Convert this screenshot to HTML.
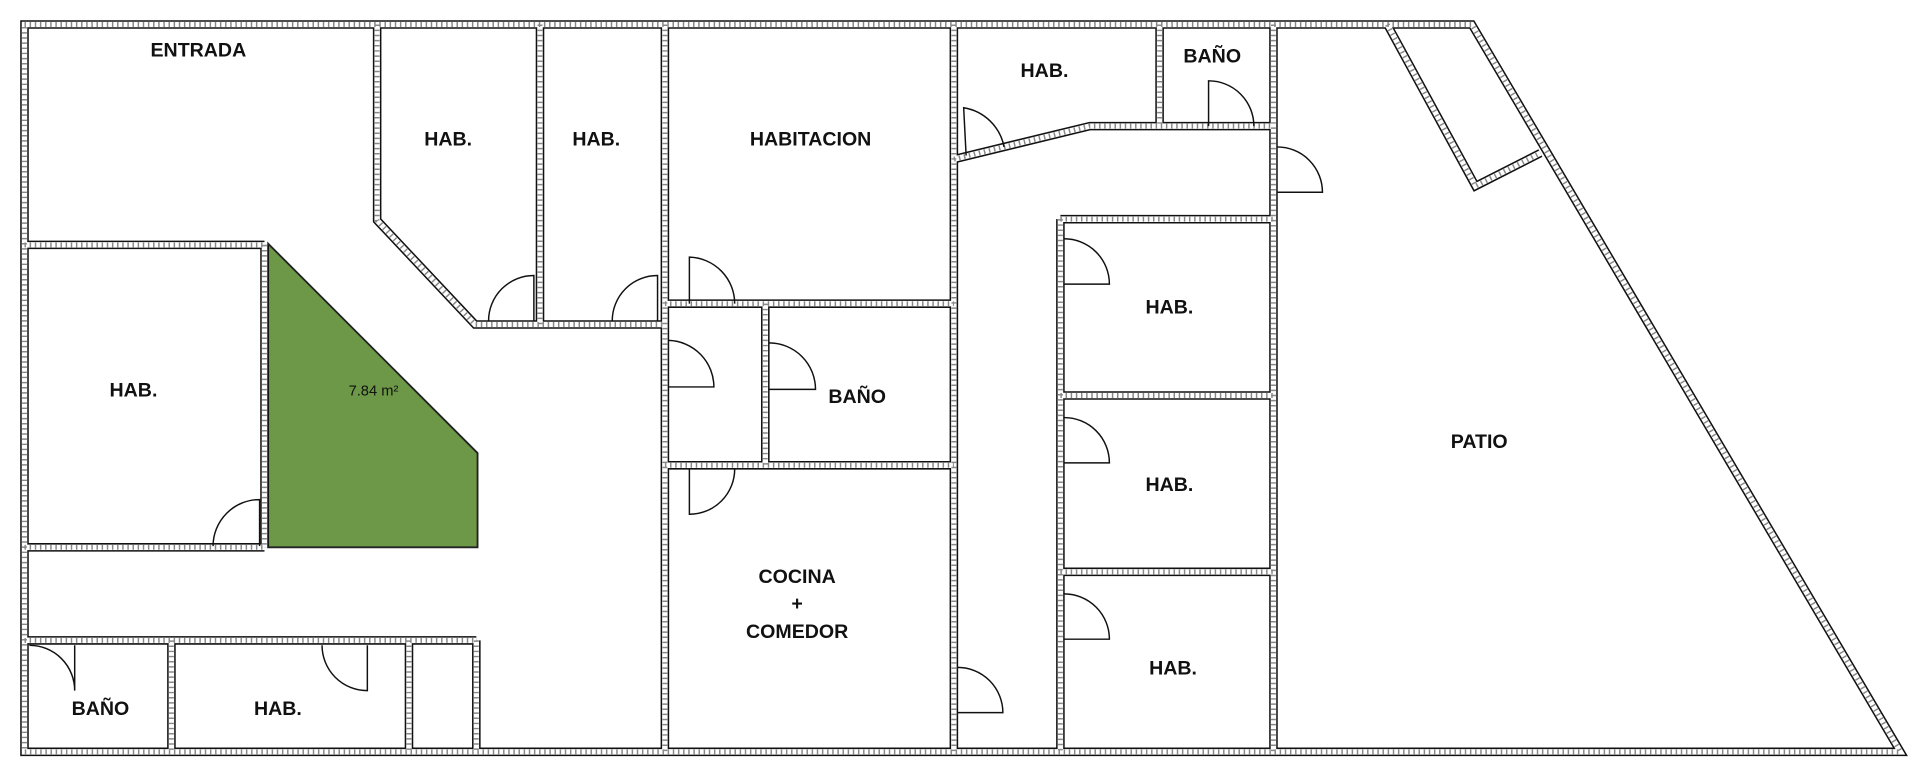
<!DOCTYPE html>
<html><head><meta charset="utf-8"><style>
html,body{margin:0;padding:0;background:#fff;}
svg{display:block}
text{font-family:"Liberation Sans",sans-serif;font-weight:bold;font-size:16px;fill:#111;text-anchor:middle}
</style></head><body>
<svg width="1920" height="780" viewBox="0 0 1568 637" xmlns="http://www.w3.org/2000/svg">
<rect width="1568" height="637" fill="#fff"/>
<polygon points="219,199 390,370 390,447 219,447" fill="#6d9847" stroke="#222" stroke-width="1.5"/>
<g fill="none" stroke-linejoin="miter" stroke-linecap="square">
<g id="w">
<path d="M20,20 H1202 L1552,614 H20 Z"/>
<path d="M20,200 H216 M216,200 V447 M20,447 H216 M308,20 V180 L388,265 H543 M441,20 V265 M543,20 V614 M543,248 H779 M779,20 V614 M625,248 V380 M543,380 H779 M20,523 H389 M140,523 V614 M334,523 V614 M389,523 V614 M779,130 L890,103 H1040 M947,20 V103 M1040,20 V614 M866,179 H1040 M866,179 V614 M866,323 H1040 M866,467 H1040 M1133,20 L1205,152 L1258,125"/>
</g>
</g>
<use href="#w" stroke="#111" stroke-width="7" fill="none"/>
<use href="#w" stroke="#fff" stroke-width="4.5" fill="none"/>
<use href="#w" stroke="#888" stroke-width="4" stroke-dasharray="1.2 3" fill="none"/>
<g fill="none" stroke="#111" stroke-width="1.2">
<path d="M436,262 V225 A37,37 0 0 0 399,262"/>
<path d="M537,262 V225 A37,37 0 0 0 500,262"/>
<path d="M563,248 V210 A38,38 0 0 1 600,248"/>
<path d="M546,278 A38,38 0 0 1 583,316 H546"/>
<path d="M628,280 A38,38 0 0 1 666,318 H628"/>
<path d="M563,383 V420 A37,37 0 0 0 600,383"/>
<path d="M212,446 V408 A38,38 0 0 0 174,446"/>
<path d="M24,527 A37,37 0 0 1 61,564 V527"/>
<path d="M300,527 V564 A37,37 0 0 1 263,527"/>
<path d="M782,545 A37,37 0 0 1 819,582 H782"/>
<path d="M789,127 L787,88 A40,40 0 0 1 820,120"/>
<path d="M987,103 V66 A37,37 0 0 1 1024,103"/>
<path d="M1043,120 A37,37 0 0 1 1080,157 H1043"/>
<path d="M869,195 A37,37 0 0 1 906,232 H869"/>
<path d="M869,341 A37,37 0 0 1 906,378 H869"/>
<path d="M869,485 A37,37 0 0 1 906,522 H869"/>
</g>
<text x="162" y="46">ENTRADA</text>
<text x="366" y="119">HAB.</text>
<text x="487" y="119">HAB.</text>
<text x="662" y="119">HABITACION</text>
<text x="853" y="63">HAB.</text>
<text x="990" y="51">BAÑO</text>
<text x="109" y="324">HAB.</text>
<text x="305" y="323" style="font-weight:normal;font-size:12px">7.84 m²</text>
<text x="700" y="329">BAÑO</text>
<text x="955" y="256">HAB.</text>
<text x="955" y="401">HAB.</text>
<text x="958" y="551">HAB.</text>
<text x="1208" y="366">PATIO</text>
<text x="651" y="476">COCINA</text>
<text x="651" y="498">+</text>
<text x="651" y="521">COMEDOR</text>
<text x="82" y="584">BAÑO</text>
<text x="227" y="584">HAB.</text>
</svg>
</body></html>
